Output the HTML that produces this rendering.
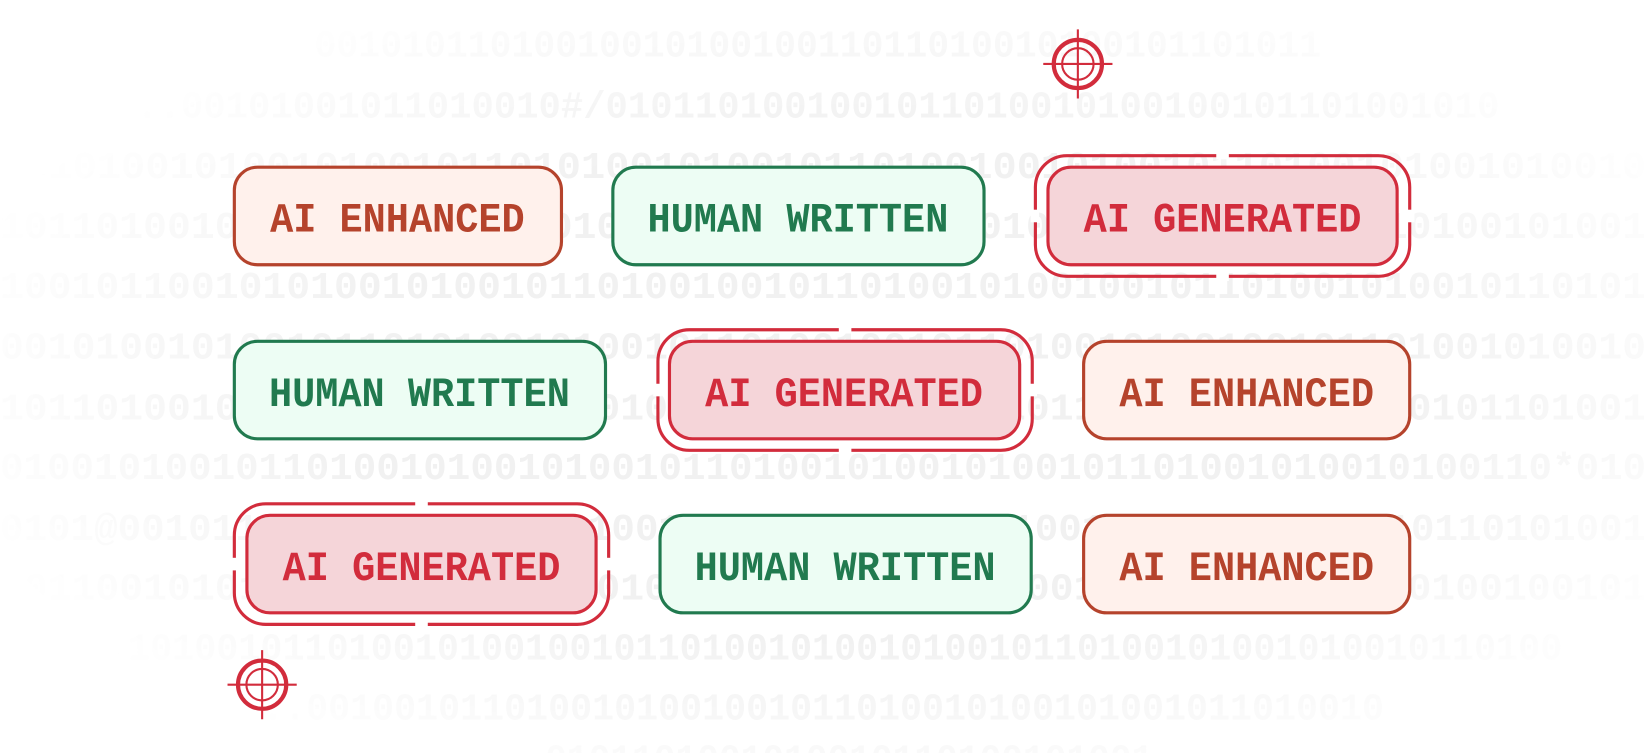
<!DOCTYPE html>
<html><head><meta charset="utf-8"><style>
html,body{margin:0;padding:0;background:#fff;}
svg{display:block}
.bg{font-family:"Liberation Mono",monospace;font-weight:bold;font-size:36px;fill:#f1f1f1;}
.lb{font-family:"Liberation Mono",monospace;font-weight:bold;font-size:40px;text-anchor:middle;}
</style></head><body>
<svg width="1644" height="753" viewBox="0 0 1644 753" xmlns="http://www.w3.org/2000/svg">
<defs>
<radialGradient id="fade" cx="822" cy="370" r="900" gradientUnits="userSpaceOnUse" gradientTransform="translate(822 370) scale(1 0.48) translate(-822 -370)">
<stop offset="0" stop-color="#fff"/><stop offset="0.55" stop-color="#fff"/><stop offset="0.9" stop-color="#fff" stop-opacity="0.2"/><stop offset="1" stop-color="#fff" stop-opacity="0"/>
</radialGradient>
<mask id="m"><rect width="1644" height="753" fill="url(#fade)"/></mask>
</defs>
<g transform="scale(1.0485)">
<g class="bg" mask="url(#m)">
<text x="300" y="54" textLength="960" lengthAdjust="spacingAndGlyphs">0010101101001001010010011011010010100101101011</text>
<text x="130" y="112" textLength="1300" lengthAdjust="spacingAndGlyphs">..00101001011010010#/0101101001001011010010100100101101001010</text>
<text x="0" y="170" textLength="1570" lengthAdjust="spacingAndGlyphs">.1101001010010100101101010010100101101001001010010110100101001010010</text>
<text x="0" y="227" textLength="1570" lengthAdjust="spacingAndGlyphs">101101001001010010110100101001011010010100101101001010010110100101001</text>
<text x="0" y="284" textLength="1570" lengthAdjust="spacingAndGlyphs">100101100101010010100101101001001011010010100100101101001010010110101</text>
<text x="0" y="342" textLength="1570" lengthAdjust="spacingAndGlyphs">001010010100101101010010100101101001001011010010100100101101001010010</text>
<text x="0" y="400" textLength="1570" lengthAdjust="spacingAndGlyphs">101101001010010110100101001001011010010100101101001010010110101101001</text>
<text x="0" y="457" textLength="1570" lengthAdjust="spacingAndGlyphs">010010100101101001010010100101101001010010100101101001010010100110*010</text>
<text x="0" y="515" textLength="1570" lengthAdjust="spacingAndGlyphs">0101@00101101001010010110100101001011010010100101101001010010110101001</text>
<text x="0" y="572" textLength="1570" lengthAdjust="spacingAndGlyphs">101100101010010100101101001001011010010100100101101001010010100100101</text>
<text x="80" y="629" textLength="1410" lengthAdjust="spacingAndGlyphs">..10100101101001010010010110100101001010010110100101001010010110100</text>
<text x="250" y="686" textLength="1070" lengthAdjust="spacingAndGlyphs">..0010010110100101001001011010010100101001011010010</text>
<text x="520" y="735" textLength="580" lengthAdjust="spacingAndGlyphs">0101101001010010110100101001</text>
</g>

<!-- row 1 -->
<rect x="223.5" y="159.5" width="312" height="93" rx="22" fill="#fff1ec" stroke="#b5432c" stroke-width="3"/>
<text class="lb" transform="translate(379 221) scale(0.92 1)" fill="#b5432c">AI ENHANCED</text>
<rect x="584.5" y="159.5" width="354" height="93" rx="22" fill="#edfdf4" stroke="#217a4f" stroke-width="3"/>
<text class="lb" transform="translate(761 221) scale(0.92 1)" fill="#217a4f">HUMAN WRITTEN</text>
<rect x="987.5" y="148.5" width="357" height="115" rx="30" fill="none" stroke="#d22c3c" stroke-width="3"/>
<rect x="1160" y="144" width="12" height="8" fill="#fff"/><rect x="1160" y="260" width="12" height="8" fill="#fff"/>
<rect x="983" y="200" width="8" height="12" fill="#fff"/><rect x="1341" y="200" width="8" height="12" fill="#fff"/>
<rect x="999.5" y="159.5" width="333" height="93" rx="22" fill="#f5d5d9" stroke="#d22c3c" stroke-width="3"/>
<text class="lb" transform="translate(1166 221) scale(0.92 1)" fill="#d22c3c">AI GENERATED</text>

<!-- row 2 -->
<rect x="223.5" y="325.5" width="354" height="93" rx="22" fill="#edfdf4" stroke="#217a4f" stroke-width="3"/>
<text class="lb" transform="translate(400 387) scale(0.92 1)" fill="#217a4f">HUMAN WRITTEN</text>
<rect x="627.5" y="314.5" width="357" height="115" rx="30" fill="none" stroke="#d22c3c" stroke-width="3"/>
<rect x="800" y="310" width="12" height="8" fill="#fff"/><rect x="800" y="426" width="12" height="8" fill="#fff"/>
<rect x="623" y="366" width="8" height="12" fill="#fff"/><rect x="981" y="366" width="8" height="12" fill="#fff"/>
<rect x="638.5" y="325.5" width="334" height="93" rx="22" fill="#f5d5d9" stroke="#d22c3c" stroke-width="3"/>
<text class="lb" transform="translate(805 387) scale(0.92 1)" fill="#d22c3c">AI GENERATED</text>
<rect x="1033.5" y="325.5" width="311" height="93" rx="22" fill="#fff1ec" stroke="#b5432c" stroke-width="3"/>
<text class="lb" transform="translate(1189 387) scale(0.92 1)" fill="#b5432c">AI ENHANCED</text>

<!-- row 3 -->
<rect x="223.5" y="480.5" width="357" height="115" rx="30" fill="none" stroke="#d22c3c" stroke-width="3"/>
<rect x="396" y="476" width="12" height="8" fill="#fff"/><rect x="396" y="592" width="12" height="8" fill="#fff"/>
<rect x="219" y="532" width="8" height="12" fill="#fff"/><rect x="577" y="532" width="8" height="12" fill="#fff"/>
<rect x="235.5" y="491.5" width="333" height="93" rx="22" fill="#f5d5d9" stroke="#d22c3c" stroke-width="3"/>
<text class="lb" transform="translate(402 553) scale(0.92 1)" fill="#d22c3c">AI GENERATED</text>
<rect x="629.5" y="491.5" width="354" height="93" rx="22" fill="#edfdf4" stroke="#217a4f" stroke-width="3"/>
<text class="lb" transform="translate(806 553) scale(0.92 1)" fill="#217a4f">HUMAN WRITTEN</text>
<rect x="1033.5" y="491.5" width="311" height="93" rx="22" fill="#fff1ec" stroke="#b5432c" stroke-width="3"/>
<text class="lb" transform="translate(1189 553) scale(0.92 1)" fill="#b5432c">AI ENHANCED</text>

<!-- crosshairs -->
<g stroke="#d22c3c" fill="none" transform="translate(1028 61)">
<circle r="23" stroke-width="4"/><circle r="15" stroke-width="2"/>
<line x1="-33" y1="0" x2="33" y2="0" stroke-width="2"/><line x1="0" y1="-33" x2="0" y2="33" stroke-width="2"/>
</g>
<g stroke="#d22c3c" fill="none" transform="translate(250 653)">
<circle r="23" stroke-width="4"/><circle r="15" stroke-width="2"/>
<line x1="-33" y1="0" x2="33" y2="0" stroke-width="2"/><line x1="0" y1="-33" x2="0" y2="33" stroke-width="2"/>
</g>
</g>
</svg>
</body></html>
